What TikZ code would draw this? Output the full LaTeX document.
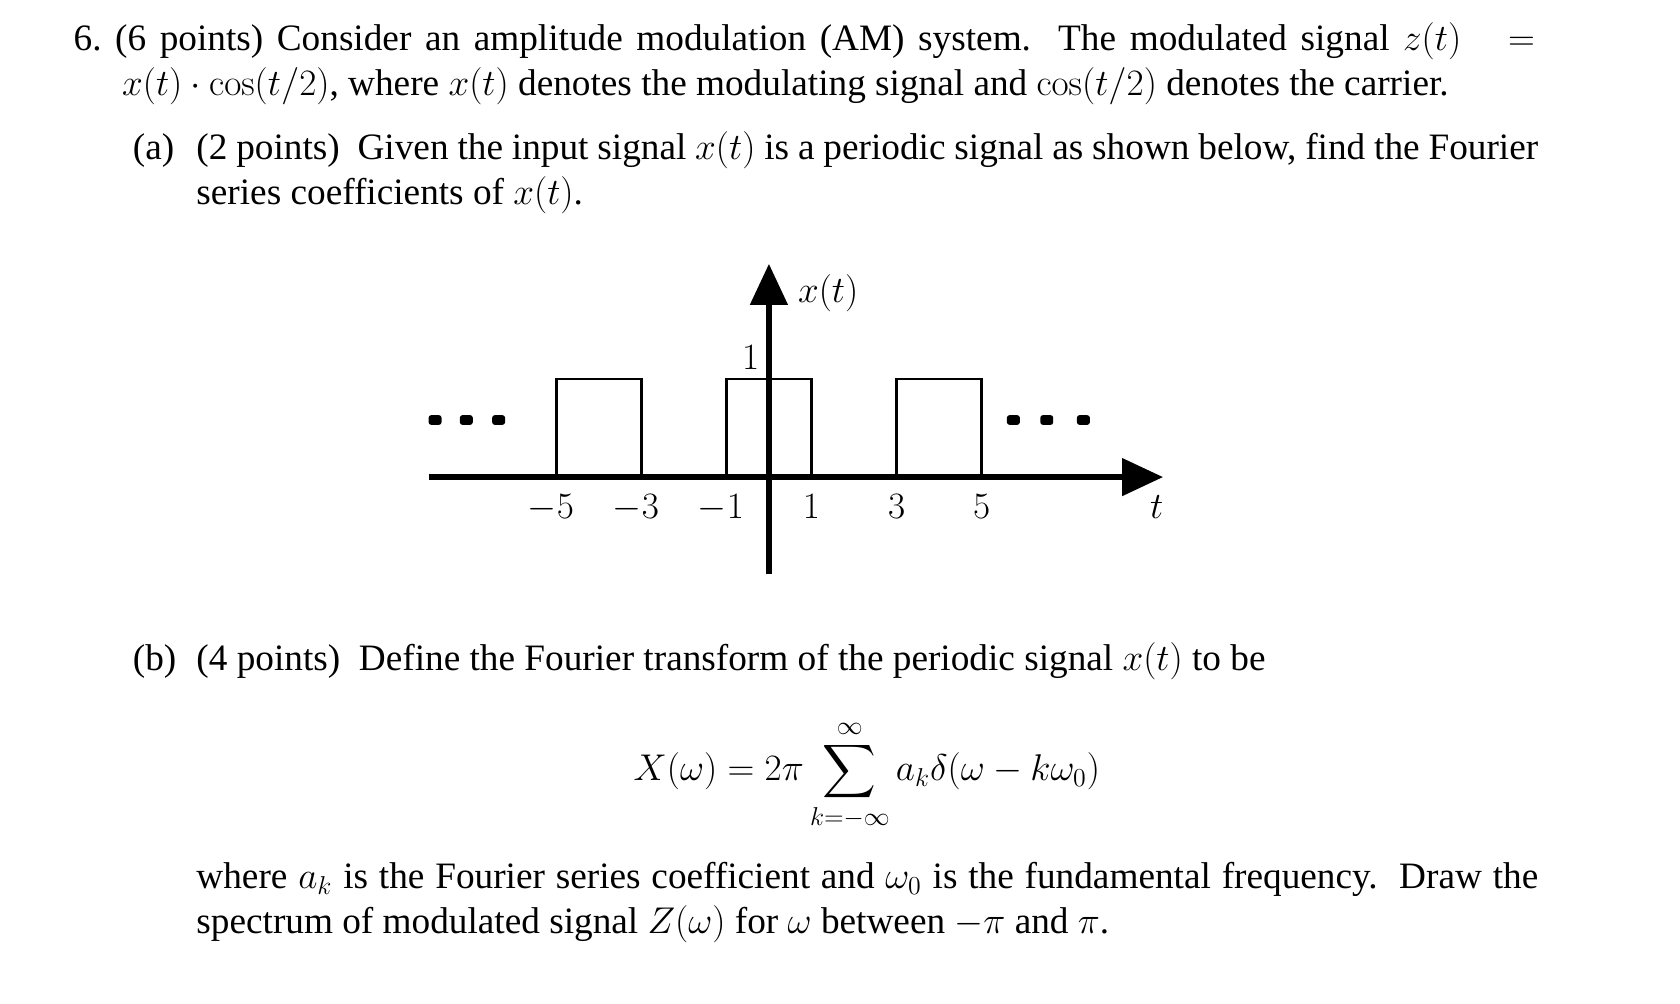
\documentclass[tikz,border=0pt]{standalone}
\usepackage{amsmath}
\usepackage[no-math]{fontspec}
\setmainfont{Liberation Serif}
\usetikzlibrary{arrows.meta}
\begin{document}
\begin{tikzpicture}[x=0.5pt,y=-0.5pt,
  txt/.style={anchor=base west,inner sep=0pt,font=\fontsize{17.3}{21}\selectfont},
  thick axis/.style={line width=2.6pt},
  pulse/.style={line width=1.3pt},
  lab/.style={anchor=base,inner sep=0pt,font=\fontsize{17.4}{21}\selectfont},
  dot/.style={rectangle,rounded corners=1.2pt,fill=black,inner sep=0pt,minimum width=6pt,minimum height=4.5pt}]
\useasboundingbox (0,0) rectangle (1560,932);
\node[txt,text width=678.5pt,align=justify] (p1) at (68,47) {\hyphenpenalty=10000\hangindent=22.5pt\hangafter=1 6.~(6 points) Consider an amplitude modulation (AM) system.\ \ The modulated signal $z(t)\ \ =$\linebreak $x(t)\cdot\cos(t/2)$, where $x(t)$ denotes the modulating signal and $\cos(t/2)$ denotes the carrier.\par};
\node[txt] (la) at (123,148) {(a)};
\node[txt,text width=623pt,align=justify] (pa) at (182,148) {\hyphenpenalty=10000 (2 points)\ \ Given the input signal $x(t)$ is a periodic signal as shown below, find the Fourier series coefficients of $x(t)$.\par};
% plot
\coordinate (o) at (714,443);
\coordinate (xl) at (398,443);
\coordinate (xr) at (1080,443);
\coordinate (yb) at (714,533);
\coordinate (yt) at (714,245);
\foreach \a/\b in {-5/-3,-1/1,3/5}{
  \draw[pulse] ({714+39.5*\a},443) -- ({714+39.5*\a},352) -- ({714+39.5*\b},352) -- ({714+39.5*\b},443);
}
\draw[thick axis,-{Triangle[length=19pt,width=17pt]}] (xl) -- (xr);
\draw[thick axis,-{Triangle[length=19pt,width=17pt]}] (yb) -- (yt);
\foreach \x in {404,433,463,941,972,1006} \node[dot] at (\x,390) {};
\foreach \v in {-5,-3,-1} \node[lab] at ({714+39.5*\v-5},481) {$\v$};
\foreach \v in {1,3,5} \node[lab] at ({714+39.5*\v},481) {$\v$};
\node[lab] at (1074,481) {$t$};
\node[lab] at (769,281) {$x(t)$};
\node[lab] at (697,343) {$1$};
\node[txt] (lb) at (123,623) {(b)};
\node[txt] (pb) at (182,623) {(4 points)\ \ Define the Fourier transform of the periodic signal $x(t)$ to be};
\node[lab] (eq) at (805,725) {$\displaystyle X(\omega)=2\pi\sum_{k=-\infty}^{\infty}a_k\delta(\omega-k\omega_0)$};
\node[txt,text width=623pt,align=justify] (pc) at (182,825) {\hyphenpenalty=10000 where $a_k$ is the Fourier series coefficient and $\omega_0$ is the fundamental frequency.\ \ Draw the spectrum of modulated signal $Z(\omega)$ for $\omega$ between $-\pi$ and $\pi$.\par};
\end{tikzpicture}
\end{document}
